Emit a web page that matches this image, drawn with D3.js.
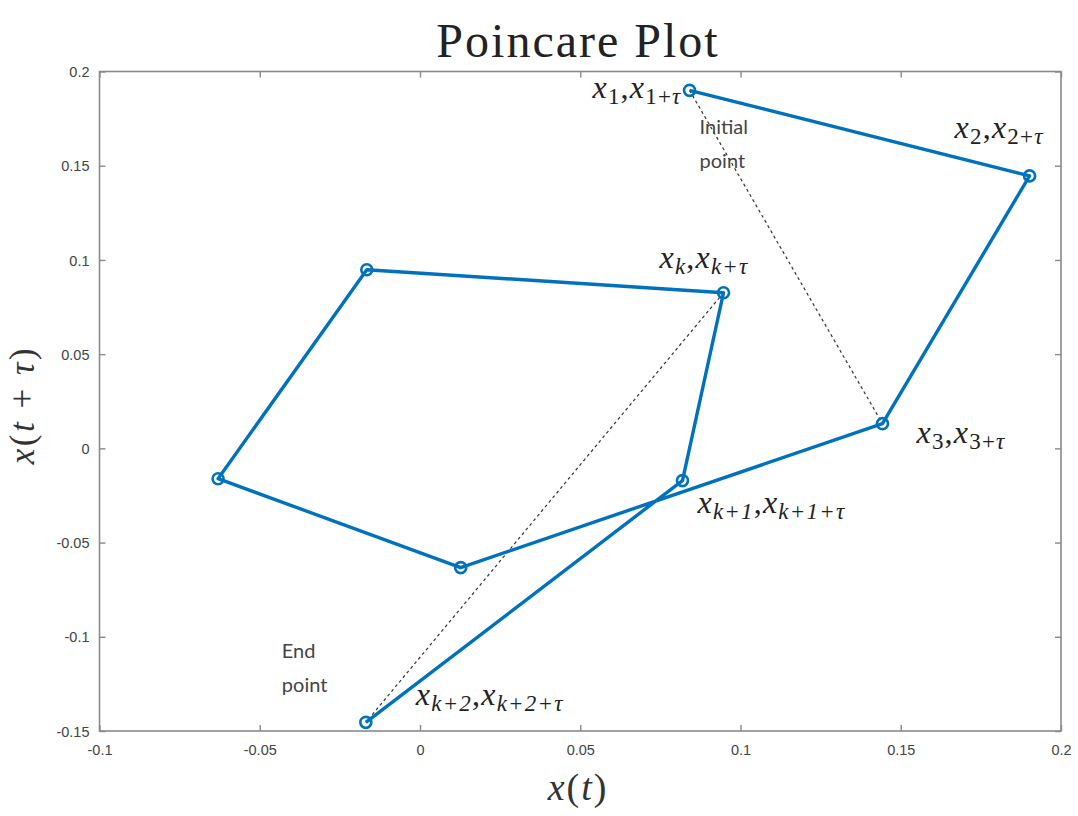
<!DOCTYPE html>
<html><head><meta charset="utf-8">
<script src="https://cdn.jsdelivr.net/npm/d3@7"></script>
<style>body{margin:0;background:#fff}</style>
</head><body>
<svg id="c" width="1078" height="816"></svg>
<script>
// ---- data ----
const xs = [0.0841, 0.1902, 0.1443, 0.0127, -0.0630, -0.0166, 0.0947, 0.0819, -0.0169];
const ys = [0.1900, 0.1446, 0.0131, -0.0633, -0.0161, 0.0948, 0.0826, -0.0171, -0.1454];
const xTicks = [-0.1, -0.05, 0, 0.05, 0.1, 0.15, 0.2];
const yTicks = [-0.15, -0.1, -0.05, 0, 0.05, 0.1, 0.15, 0.2];
const xTickLabels = ["-0.1", "-0.05", "0", "0.05", "0.1", "0.15", "0.2"];
const yTickLabels = ["-0.15", "-0.1", "-0.05", "0", "0.05", "0.1", "0.15", "0.2"];
// dotted chords: [from index, to index]
const chords = [[0, 2], [6, 8]];
// point labels: index, main subscript, second subscript
const ptLabels = [
  {i:0, a:"1", b:"1+", dx:-8, dy:8, anchor:"end"},
  {i:1, a:"2", b:"2+", dx:-75, dy:-38, anchor:"start"},
  {i:6, a:"k", b:"k+", dx:-64, dy:-25, anchor:"start"},
  {i:2, a:"3", b:"3+", dx:34, dy:19, anchor:"start"},
  {i:7, a:"k+1", b:"k+1+", dx:15, dy:32, anchor:"start"},
  {i:8, a:"k+2", b:"k+2+", dx:50, dy:-17, anchor:"start"}
];
const notes = [
  {i:0, lines:["Initial","point"], dx:10, dy:44},
  {i:8, lines:["End","point"], dx:-84, dy:-64}
];

// ---- layout ----
const svg = d3.select("#c");
const L = 99.5, R = 1061, T = 71.5, B = 731;
const x = d3.scaleLinear().domain([-0.1, 0.2]).range([L, R]);
const y = d3.scaleLinear().domain([-0.15, 0.2]).range([B, T]);
const axCol = "#8a8a8a", txtCol = "#444";

// axes box
svg.append("rect").attr("x", L).attr("y", T).attr("width", R-L).attr("height", B-T)
  .attr("fill", "none").attr("stroke", axCol).attr("stroke-width", 1.6);

const fmtX = (d,i) => xTickLabels[i];
const fmtY = (d,i) => yTickLabels[i];
const axB = svg.append("g").attr("transform", `translate(0,${B})`)
  .call(d3.axisBottom(x).tickValues(xTicks).tickFormat(fmtX).tickSizeInner(-6).tickSizeOuter(0).tickPadding(14));
const axT = svg.append("g").attr("transform", `translate(0,${T})`)
  .call(d3.axisTop(x).tickValues(xTicks).tickFormat("").tickSizeInner(-6).tickSizeOuter(0));
const axL = svg.append("g").attr("transform", `translate(${L},0)`)
  .call(d3.axisLeft(y).tickValues(yTicks).tickFormat(fmtY).tickSizeInner(-6).tickSizeOuter(0).tickPadding(10));
const axR = svg.append("g").attr("transform", `translate(${R},0)`)
  .call(d3.axisRight(y).tickValues(yTicks).tickFormat("").tickSizeInner(-6).tickSizeOuter(0));
[axB, axT, axL, axR].forEach(g => {
  g.select(".domain").remove();
  g.selectAll("line").attr("stroke", axCol).attr("stroke-width", 1.4);
  g.selectAll("text").attr("fill", txtCol).style("font-family", "Liberation Sans, Arial, sans-serif").style("font-size", "14.5px");
});
axL.selectAll("text").attr("dy", "0.35em");

// dotted chords
chords.forEach(([a, b]) => {
  svg.append("line").attr("x1", x(xs[a])).attr("y1", y(ys[a])).attr("x2", x(xs[b])).attr("y2", y(ys[b]))
    .attr("stroke", "#333").attr("stroke-width", 1.2).attr("stroke-dasharray", "3,3");
});

// trajectory
const pts = xs.map((v, i) => [v, ys[i]]);
svg.append("path").datum(pts)
  .attr("d", d3.line().x(d => x(d[0])).y(d => y(d[1])))
  .attr("fill", "none").attr("stroke", "#0072BD").attr("stroke-width", 3.4).attr("stroke-linejoin", "round");
svg.selectAll("circle.m").data(pts).enter().append("circle")
  .attr("cx", d => x(d[0])).attr("cy", d => y(d[1])).attr("r", 5.5)
  .attr("fill", "none").attr("stroke", "#0072BD").attr("stroke-width", 2.6);

// point labels
const mathFont = "Liberation Serif, Times New Roman, serif";
ptLabels.forEach(p => {
  const t = svg.append("text").attr("x", x(xs[p.i]) + p.dx).attr("y", y(ys[p.i]) + p.dy)
    .attr("text-anchor", p.anchor)
    .style("font-family", mathFont).attr("fill", "#222").style("font-size", "32px").style("letter-spacing", "1.2px");
  t.append("tspan").style("font-style", "italic").text("x");
  t.append("tspan").attr("dy", 6).style("font-size", "23px").style("font-style", p.a.startsWith("k") ? "italic" : "normal").text(p.a);
  t.append("tspan").attr("dy", -6).text(",");
  t.append("tspan").style("font-style", "italic").text("x");
  t.append("tspan").attr("dy", 6).style("font-size", "23px").style("font-style", p.b.startsWith("k") ? "italic" : "normal").text(p.b);
  t.append("tspan").style("font-size", "23px").style("font-style", "italic").text("τ");
});

// notes
notes.forEach(n => {
  const t = svg.append("text").attr("x", x(xs[n.i]) + n.dx).attr("y", y(ys[n.i]) + n.dy)
    .style("font-family", "Lato, Open Sans, sans-serif").style("font-size", "20px").attr("fill", "#444");
  n.lines.forEach((s, k) => t.append("tspan").attr("x", x(xs[n.i]) + n.dx).attr("dy", k ? 34 : 0).text(s));
});

// title
svg.append("text").attr("x", 578).attr("y", 57).attr("text-anchor", "middle")
  .style("font-family", "Liberation Serif, serif").style("font-size", "48px").style("letter-spacing", "2px")
  .attr("fill", "#222").text("Poincare Plot");

// axis labels
const xl = svg.append("text").attr("x", 578).attr("y", 800).attr("text-anchor", "middle")
  .style("font-family", mathFont).style("font-size", "38px").style("letter-spacing", "2px").attr("fill", "#333");
xl.append("tspan").style("font-style", "italic").text("x");
xl.append("tspan").text("(");
xl.append("tspan").style("font-style", "italic").text("t");
xl.append("tspan").text(")");

const yl = svg.append("text").attr("transform", `translate(34,405) rotate(-90)`).attr("text-anchor", "middle")
  .style("font-family", mathFont).style("font-size", "35px").style("letter-spacing", "2.5px").attr("fill", "#333");
yl.append("tspan").style("font-style", "italic").text("x");
yl.append("tspan").text("(");
yl.append("tspan").style("font-style", "italic").text("t");
yl.append("tspan").text(" + ");
yl.append("tspan").style("font-style", "italic").text("τ");
yl.append("tspan").text(")");
</script>
</body></html>
